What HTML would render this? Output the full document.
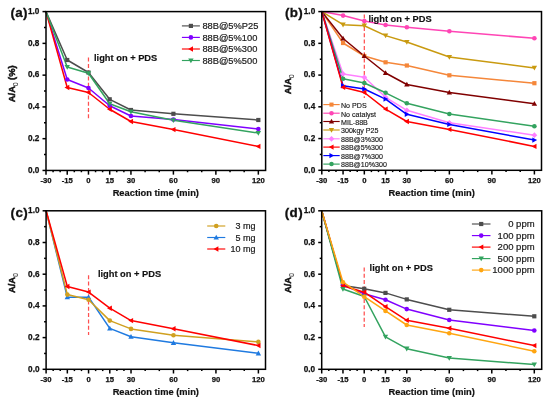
<!DOCTYPE html>
<html><head><meta charset="utf-8"><style>
html,body{margin:0;padding:0;background:#fff;-webkit-font-smoothing:antialiased;}
body{width:550px;height:401px;overflow:hidden;}
svg{display:block;will-change:transform;}
text{font-family:"Liberation Sans", sans-serif;fill:#111;}
.tk{font-size:8.2px;font-weight:bold;stroke:#111;stroke-width:0.25px;}
.tkx{font-size:7.7px;font-weight:bold;stroke:#111;stroke-width:0.25px;}
.ax{font-size:9.3px;font-weight:bold;stroke:#111;stroke-width:0.2px;}
.ay{font-size:9.4px;font-weight:bold;stroke:#111;stroke-width:0.45px;}
.sub{font-size:6.4px;stroke-width:0.15px;font-weight:normal;fill:#444;stroke:#444;}
.pl{font-size:13.4px;letter-spacing:0.35px;font-weight:bold;stroke:#111;stroke-width:0.3px;}
.lo{font-size:9.3px;font-weight:bold;stroke:#111;stroke-width:0.15px;}
.lg{font-size:9.3px;fill:#1a1a1a;stroke:#1a1a1a;stroke-width:0.2px;}
.lgs{font-size:7.1px;fill:#1a1a1a;stroke:#1a1a1a;stroke-width:0.15px;}
</style></head><body>
<svg width="550" height="401" viewBox="0 0 550 401">
<rect width="550" height="401" fill="#fff"/>
<line x1="88.47" y1="57.6" x2="88.47" y2="118.2" stroke="#ff5050" stroke-width="1.25" stroke-dasharray="4 2.3"/>
<polyline points="46.00,11.60 67.23,60.00 88.47,72.50 109.70,99.30 130.94,110.00 173.40,113.80 258.34,120.00" fill="none" stroke="#4d4d4d" stroke-width="1.5" stroke-linejoin="round"/>
<polyline points="46.00,11.60 67.23,79.50 88.47,88.00 109.70,105.75 130.94,116.00 173.40,119.60 258.34,129.00" fill="none" stroke="#8000ff" stroke-width="1.5" stroke-linejoin="round"/>
<polyline points="46.00,11.60 67.23,87.50 88.47,92.50 109.70,109.25 130.94,121.50 173.40,129.60 258.34,146.40" fill="none" stroke="#ff0000" stroke-width="1.5" stroke-linejoin="round"/>
<polyline points="46.00,11.60 67.23,67.00 88.47,73.30 109.70,103.75 130.94,111.75 173.40,120.30 258.34,133.00" fill="none" stroke="#33a35f" stroke-width="1.5" stroke-linejoin="round"/>
<rect x="65.13" y="57.90" width="4.20" height="4.20" fill="#4d4d4d"/>
<rect x="86.37" y="70.40" width="4.20" height="4.20" fill="#4d4d4d"/>
<rect x="107.60" y="97.20" width="4.20" height="4.20" fill="#4d4d4d"/>
<rect x="128.84" y="107.90" width="4.20" height="4.20" fill="#4d4d4d"/>
<rect x="171.30" y="111.70" width="4.20" height="4.20" fill="#4d4d4d"/>
<rect x="256.24" y="117.90" width="4.20" height="4.20" fill="#4d4d4d"/>
<circle cx="67.23" cy="79.50" r="2.30" fill="#8000ff"/>
<circle cx="88.47" cy="88.00" r="2.30" fill="#8000ff"/>
<circle cx="109.70" cy="105.75" r="2.30" fill="#8000ff"/>
<circle cx="130.94" cy="116.00" r="2.30" fill="#8000ff"/>
<circle cx="173.40" cy="119.60" r="2.30" fill="#8000ff"/>
<circle cx="258.34" cy="129.00" r="2.30" fill="#8000ff"/>
<path d="M64.53 87.50L69.33 84.80L69.33 90.20Z" fill="#ff0000"/>
<path d="M85.77 92.50L90.57 89.80L90.57 95.20Z" fill="#ff0000"/>
<path d="M107.00 109.25L111.80 106.55L111.80 111.95Z" fill="#ff0000"/>
<path d="M128.24 121.50L133.04 118.80L133.04 124.20Z" fill="#ff0000"/>
<path d="M170.70 129.60L175.50 126.90L175.50 132.30Z" fill="#ff0000"/>
<path d="M255.64 146.40L260.44 143.70L260.44 149.10Z" fill="#ff0000"/>
<path d="M67.23 69.70L69.93 64.90L64.53 64.90Z" fill="#33a35f"/>
<path d="M88.47 76.00L91.17 71.20L85.77 71.20Z" fill="#33a35f"/>
<path d="M109.70 106.45L112.40 101.65L107.00 101.65Z" fill="#33a35f"/>
<path d="M130.94 114.45L133.64 109.65L128.24 109.65Z" fill="#33a35f"/>
<path d="M173.40 123.00L176.10 118.20L170.70 118.20Z" fill="#33a35f"/>
<path d="M258.34 135.70L261.04 130.90L255.64 130.90Z" fill="#33a35f"/>
<rect x="46.00" y="11.60" width="219.60" height="158.85" fill="none" stroke="#000" stroke-width="1.5"/>
<line x1="42.50" y1="170.45" x2="46.00" y2="170.45" stroke="#000" stroke-width="1.5"/>
<line x1="44.00" y1="154.56" x2="46.00" y2="154.56" stroke="#000" stroke-width="1.5"/>
<line x1="42.50" y1="138.68" x2="46.00" y2="138.68" stroke="#000" stroke-width="1.5"/>
<line x1="44.00" y1="122.79" x2="46.00" y2="122.79" stroke="#000" stroke-width="1.5"/>
<line x1="42.50" y1="106.91" x2="46.00" y2="106.91" stroke="#000" stroke-width="1.5"/>
<line x1="44.00" y1="91.02" x2="46.00" y2="91.02" stroke="#000" stroke-width="1.5"/>
<line x1="42.50" y1="75.14" x2="46.00" y2="75.14" stroke="#000" stroke-width="1.5"/>
<line x1="44.00" y1="59.25" x2="46.00" y2="59.25" stroke="#000" stroke-width="1.5"/>
<line x1="42.50" y1="43.37" x2="46.00" y2="43.37" stroke="#000" stroke-width="1.5"/>
<line x1="44.00" y1="27.48" x2="46.00" y2="27.48" stroke="#000" stroke-width="1.5"/>
<line x1="42.50" y1="11.60" x2="46.00" y2="11.60" stroke="#000" stroke-width="1.5"/>
<text x="39.40" y="172.75" text-anchor="end" class="tk">0.0</text>
<text x="39.40" y="140.98" text-anchor="end" class="tk">0.2</text>
<text x="39.40" y="109.21" text-anchor="end" class="tk">0.4</text>
<text x="39.40" y="77.44" text-anchor="end" class="tk">0.6</text>
<text x="39.40" y="45.67" text-anchor="end" class="tk">0.8</text>
<text x="39.40" y="13.90" text-anchor="end" class="tk">1.0</text>
<line x1="46.00" y1="170.45" x2="46.00" y2="174.65" stroke="#000" stroke-width="1.5"/>
<text x="46.00" y="182.80" text-anchor="middle" class="tkx">-30</text>
<line x1="67.23" y1="170.45" x2="67.23" y2="174.65" stroke="#000" stroke-width="1.5"/>
<text x="67.23" y="182.80" text-anchor="middle" class="tkx">-15</text>
<line x1="88.47" y1="170.45" x2="88.47" y2="174.65" stroke="#000" stroke-width="1.5"/>
<text x="88.47" y="182.80" text-anchor="middle" class="tkx">0</text>
<line x1="109.70" y1="170.45" x2="109.70" y2="174.65" stroke="#000" stroke-width="1.5"/>
<text x="109.70" y="182.80" text-anchor="middle" class="tkx">15</text>
<line x1="130.94" y1="170.45" x2="130.94" y2="174.65" stroke="#000" stroke-width="1.5"/>
<text x="130.94" y="182.80" text-anchor="middle" class="tkx">30</text>
<line x1="173.40" y1="170.45" x2="173.40" y2="174.65" stroke="#000" stroke-width="1.5"/>
<text x="173.40" y="182.80" text-anchor="middle" class="tkx">60</text>
<line x1="215.87" y1="170.45" x2="215.87" y2="174.65" stroke="#000" stroke-width="1.5"/>
<text x="215.87" y="182.80" text-anchor="middle" class="tkx">90</text>
<line x1="258.34" y1="170.45" x2="258.34" y2="174.65" stroke="#000" stroke-width="1.5"/>
<text x="258.34" y="182.80" text-anchor="middle" class="tkx">120</text>
<line x1="53.08" y1="170.45" x2="53.08" y2="172.25" stroke="#000" stroke-width="1.5"/>
<line x1="60.16" y1="170.45" x2="60.16" y2="172.25" stroke="#000" stroke-width="1.5"/>
<line x1="74.31" y1="170.45" x2="74.31" y2="172.25" stroke="#000" stroke-width="1.5"/>
<line x1="81.39" y1="170.45" x2="81.39" y2="172.25" stroke="#000" stroke-width="1.5"/>
<line x1="95.55" y1="170.45" x2="95.55" y2="172.25" stroke="#000" stroke-width="1.5"/>
<line x1="102.62" y1="170.45" x2="102.62" y2="172.25" stroke="#000" stroke-width="1.5"/>
<line x1="116.78" y1="170.45" x2="116.78" y2="172.25" stroke="#000" stroke-width="1.5"/>
<line x1="123.86" y1="170.45" x2="123.86" y2="172.25" stroke="#000" stroke-width="1.5"/>
<line x1="145.09" y1="170.45" x2="145.09" y2="172.25" stroke="#000" stroke-width="1.5"/>
<line x1="159.25" y1="170.45" x2="159.25" y2="172.25" stroke="#000" stroke-width="1.5"/>
<line x1="187.56" y1="170.45" x2="187.56" y2="172.25" stroke="#000" stroke-width="1.5"/>
<line x1="201.72" y1="170.45" x2="201.72" y2="172.25" stroke="#000" stroke-width="1.5"/>
<line x1="230.03" y1="170.45" x2="230.03" y2="172.25" stroke="#000" stroke-width="1.5"/>
<line x1="244.18" y1="170.45" x2="244.18" y2="172.25" stroke="#000" stroke-width="1.5"/>
<text x="155.80" y="195.75" text-anchor="middle" class="ax">Reaction time (min)</text>
<text transform="translate(15.30,102.20) rotate(-90)" class="ay">A/A<tspan class="sub" dy="3">0</tspan><tspan dy="-3"> (%)</tspan></text>
<text x="10.50" y="17.40" class="pl">(a)</text>
<line x1="364.32" y1="14.4" x2="364.32" y2="98" stroke="#ff5050" stroke-width="1.25" stroke-dasharray="4 2.3"/>
<polyline points="321.80,11.60 343.06,15.60 364.32,21.10 385.58,25.00 406.84,27.20 449.36,31.30 534.39,38.30" fill="none" stroke="#ff45b5" stroke-width="1.5" stroke-linejoin="round"/>
<polyline points="321.80,11.60 343.06,24.70 364.32,25.70 385.58,35.60 406.84,42.00 449.36,57.00 534.39,67.90" fill="none" stroke="#c99a10" stroke-width="1.5" stroke-linejoin="round"/>
<polyline points="321.80,11.60 343.06,43.00 364.32,56.00 385.58,62.30 406.84,65.50 449.36,75.30 534.39,83.20" fill="none" stroke="#f5873a" stroke-width="1.5" stroke-linejoin="round"/>
<polyline points="321.80,11.60 343.06,38.50 364.32,56.00 385.58,73.00 406.84,84.50 449.36,92.40 534.39,103.70" fill="none" stroke="#800000" stroke-width="1.5" stroke-linejoin="round"/>
<polyline points="321.80,11.60 343.06,73.90 364.32,77.30 385.58,97.30 406.84,110.30 449.36,122.80 534.39,135.20" fill="none" stroke="#ff80ff" stroke-width="1.5" stroke-linejoin="round"/>
<polyline points="321.80,11.60 343.06,78.70 364.32,83.00 385.58,92.80 406.84,103.30 449.36,114.00 534.39,126.20" fill="none" stroke="#33a35f" stroke-width="1.5" stroke-linejoin="round"/>
<polyline points="321.80,11.60 343.06,85.80 364.32,89.00 385.58,99.10 406.84,114.30 449.36,124.40 534.39,140.10" fill="none" stroke="#0000ff" stroke-width="1.5" stroke-linejoin="round"/>
<polyline points="321.80,11.60 343.06,87.20 364.32,92.50 385.58,109.10 406.84,121.50 449.36,129.40 534.39,146.40" fill="none" stroke="#ff0000" stroke-width="1.5" stroke-linejoin="round"/>
<circle cx="343.06" cy="15.60" r="2.30" fill="#ff45b5"/>
<circle cx="364.32" cy="21.10" r="2.30" fill="#ff45b5"/>
<circle cx="385.58" cy="25.00" r="2.30" fill="#ff45b5"/>
<circle cx="406.84" cy="27.20" r="2.30" fill="#ff45b5"/>
<circle cx="449.36" cy="31.30" r="2.30" fill="#ff45b5"/>
<circle cx="534.39" cy="38.30" r="2.30" fill="#ff45b5"/>
<path d="M343.06 27.40L345.76 22.60L340.36 22.60Z" fill="#c99a10"/>
<path d="M364.32 28.40L367.02 23.60L361.62 23.60Z" fill="#c99a10"/>
<path d="M385.58 38.30L388.28 33.50L382.88 33.50Z" fill="#c99a10"/>
<path d="M406.84 44.70L409.54 39.90L404.14 39.90Z" fill="#c99a10"/>
<path d="M449.36 59.70L452.06 54.90L446.66 54.90Z" fill="#c99a10"/>
<path d="M534.39 70.60L537.09 65.80L531.70 65.80Z" fill="#c99a10"/>
<rect x="340.96" y="40.90" width="4.20" height="4.20" fill="#f5873a"/>
<rect x="362.22" y="53.90" width="4.20" height="4.20" fill="#f5873a"/>
<rect x="383.48" y="60.20" width="4.20" height="4.20" fill="#f5873a"/>
<rect x="404.74" y="63.40" width="4.20" height="4.20" fill="#f5873a"/>
<rect x="447.26" y="73.20" width="4.20" height="4.20" fill="#f5873a"/>
<rect x="532.30" y="81.10" width="4.20" height="4.20" fill="#f5873a"/>
<path d="M343.06 35.80L345.76 40.60L340.36 40.60Z" fill="#800000"/>
<path d="M364.32 53.30L367.02 58.10L361.62 58.10Z" fill="#800000"/>
<path d="M385.58 70.30L388.28 75.10L382.88 75.10Z" fill="#800000"/>
<path d="M406.84 81.80L409.54 86.60L404.14 86.60Z" fill="#800000"/>
<path d="M449.36 89.70L452.06 94.50L446.66 94.50Z" fill="#800000"/>
<path d="M534.39 101.00L537.09 105.80L531.70 105.80Z" fill="#800000"/>
<path d="M343.06 71.00L345.96 73.90L343.06 76.80L340.16 73.90Z" fill="#ff80ff"/>
<path d="M364.32 74.40L367.22 77.30L364.32 80.20L361.42 77.30Z" fill="#ff80ff"/>
<path d="M385.58 94.40L388.48 97.30L385.58 100.20L382.68 97.30Z" fill="#ff80ff"/>
<path d="M406.84 107.40L409.74 110.30L406.84 113.20L403.94 110.30Z" fill="#ff80ff"/>
<path d="M449.36 119.90L452.26 122.80L449.36 125.70L446.46 122.80Z" fill="#ff80ff"/>
<path d="M534.39 132.30L537.29 135.20L534.39 138.10L531.50 135.20Z" fill="#ff80ff"/>
<circle cx="343.06" cy="78.70" r="2.30" fill="#33a35f"/>
<circle cx="364.32" cy="83.00" r="2.30" fill="#33a35f"/>
<circle cx="385.58" cy="92.80" r="2.30" fill="#33a35f"/>
<circle cx="406.84" cy="103.30" r="2.30" fill="#33a35f"/>
<circle cx="449.36" cy="114.00" r="2.30" fill="#33a35f"/>
<circle cx="534.39" cy="126.20" r="2.30" fill="#33a35f"/>
<path d="M345.76 85.80L340.96 83.10L340.96 88.50Z" fill="#0000ff"/>
<path d="M367.02 89.00L362.22 86.30L362.22 91.70Z" fill="#0000ff"/>
<path d="M388.28 99.10L383.48 96.40L383.48 101.80Z" fill="#0000ff"/>
<path d="M409.54 114.30L404.74 111.60L404.74 117.00Z" fill="#0000ff"/>
<path d="M452.06 124.40L447.26 121.70L447.26 127.10Z" fill="#0000ff"/>
<path d="M537.09 140.10L532.30 137.40L532.30 142.80Z" fill="#0000ff"/>
<path d="M340.36 87.20L345.16 84.50L345.16 89.90Z" fill="#ff0000"/>
<path d="M361.62 92.50L366.42 89.80L366.42 95.20Z" fill="#ff0000"/>
<path d="M382.88 109.10L387.68 106.40L387.68 111.80Z" fill="#ff0000"/>
<path d="M404.14 121.50L408.94 118.80L408.94 124.20Z" fill="#ff0000"/>
<path d="M446.66 129.40L451.46 126.70L451.46 132.10Z" fill="#ff0000"/>
<path d="M531.70 146.40L536.49 143.70L536.49 149.10Z" fill="#ff0000"/>
<rect x="321.80" y="11.60" width="219.70" height="158.70" fill="none" stroke="#000" stroke-width="1.5"/>
<line x1="318.30" y1="170.30" x2="321.80" y2="170.30" stroke="#000" stroke-width="1.5"/>
<line x1="319.80" y1="154.43" x2="321.80" y2="154.43" stroke="#000" stroke-width="1.5"/>
<line x1="318.30" y1="138.56" x2="321.80" y2="138.56" stroke="#000" stroke-width="1.5"/>
<line x1="319.80" y1="122.69" x2="321.80" y2="122.69" stroke="#000" stroke-width="1.5"/>
<line x1="318.30" y1="106.82" x2="321.80" y2="106.82" stroke="#000" stroke-width="1.5"/>
<line x1="319.80" y1="90.95" x2="321.80" y2="90.95" stroke="#000" stroke-width="1.5"/>
<line x1="318.30" y1="75.08" x2="321.80" y2="75.08" stroke="#000" stroke-width="1.5"/>
<line x1="319.80" y1="59.21" x2="321.80" y2="59.21" stroke="#000" stroke-width="1.5"/>
<line x1="318.30" y1="43.34" x2="321.80" y2="43.34" stroke="#000" stroke-width="1.5"/>
<line x1="319.80" y1="27.47" x2="321.80" y2="27.47" stroke="#000" stroke-width="1.5"/>
<line x1="318.30" y1="11.60" x2="321.80" y2="11.60" stroke="#000" stroke-width="1.5"/>
<text x="315.20" y="172.60" text-anchor="end" class="tk">0.0</text>
<text x="315.20" y="140.86" text-anchor="end" class="tk">0.2</text>
<text x="315.20" y="109.12" text-anchor="end" class="tk">0.4</text>
<text x="315.20" y="77.38" text-anchor="end" class="tk">0.6</text>
<text x="315.20" y="45.64" text-anchor="end" class="tk">0.8</text>
<text x="315.20" y="13.90" text-anchor="end" class="tk">1.0</text>
<line x1="321.80" y1="170.30" x2="321.80" y2="174.50" stroke="#000" stroke-width="1.5"/>
<text x="321.80" y="182.65" text-anchor="middle" class="tkx">-30</text>
<line x1="343.06" y1="170.30" x2="343.06" y2="174.50" stroke="#000" stroke-width="1.5"/>
<text x="343.06" y="182.65" text-anchor="middle" class="tkx">-15</text>
<line x1="364.32" y1="170.30" x2="364.32" y2="174.50" stroke="#000" stroke-width="1.5"/>
<text x="364.32" y="182.65" text-anchor="middle" class="tkx">0</text>
<line x1="385.58" y1="170.30" x2="385.58" y2="174.50" stroke="#000" stroke-width="1.5"/>
<text x="385.58" y="182.65" text-anchor="middle" class="tkx">15</text>
<line x1="406.84" y1="170.30" x2="406.84" y2="174.50" stroke="#000" stroke-width="1.5"/>
<text x="406.84" y="182.65" text-anchor="middle" class="tkx">30</text>
<line x1="449.36" y1="170.30" x2="449.36" y2="174.50" stroke="#000" stroke-width="1.5"/>
<text x="449.36" y="182.65" text-anchor="middle" class="tkx">60</text>
<line x1="491.88" y1="170.30" x2="491.88" y2="174.50" stroke="#000" stroke-width="1.5"/>
<text x="491.88" y="182.65" text-anchor="middle" class="tkx">90</text>
<line x1="534.39" y1="170.30" x2="534.39" y2="174.50" stroke="#000" stroke-width="1.5"/>
<text x="534.39" y="182.65" text-anchor="middle" class="tkx">120</text>
<line x1="328.89" y1="170.30" x2="328.89" y2="172.10" stroke="#000" stroke-width="1.5"/>
<line x1="335.97" y1="170.30" x2="335.97" y2="172.10" stroke="#000" stroke-width="1.5"/>
<line x1="350.15" y1="170.30" x2="350.15" y2="172.10" stroke="#000" stroke-width="1.5"/>
<line x1="357.23" y1="170.30" x2="357.23" y2="172.10" stroke="#000" stroke-width="1.5"/>
<line x1="371.41" y1="170.30" x2="371.41" y2="172.10" stroke="#000" stroke-width="1.5"/>
<line x1="378.49" y1="170.30" x2="378.49" y2="172.10" stroke="#000" stroke-width="1.5"/>
<line x1="392.67" y1="170.30" x2="392.67" y2="172.10" stroke="#000" stroke-width="1.5"/>
<line x1="399.75" y1="170.30" x2="399.75" y2="172.10" stroke="#000" stroke-width="1.5"/>
<line x1="421.01" y1="170.30" x2="421.01" y2="172.10" stroke="#000" stroke-width="1.5"/>
<line x1="435.18" y1="170.30" x2="435.18" y2="172.10" stroke="#000" stroke-width="1.5"/>
<line x1="463.53" y1="170.30" x2="463.53" y2="172.10" stroke="#000" stroke-width="1.5"/>
<line x1="477.70" y1="170.30" x2="477.70" y2="172.10" stroke="#000" stroke-width="1.5"/>
<line x1="506.05" y1="170.30" x2="506.05" y2="172.10" stroke="#000" stroke-width="1.5"/>
<line x1="520.22" y1="170.30" x2="520.22" y2="172.10" stroke="#000" stroke-width="1.5"/>
<text x="431.65" y="195.60" text-anchor="middle" class="ax">Reaction time (min)</text>
<text transform="translate(291.10,94.20) rotate(-90)" class="ay">A/A<tspan class="sub" dy="3">0</tspan></text>
<text x="284.90" y="17.40" class="pl">(b)</text>
<line x1="88.56" y1="275.3" x2="88.56" y2="335" stroke="#ff5050" stroke-width="1.25" stroke-dasharray="4 2.3"/>
<polyline points="46.10,210.80 67.33,297.20 88.56,297.20 109.79,328.40 131.02,336.70 173.48,342.80 258.39,353.30" fill="none" stroke="#1f7ae0" stroke-width="1.5" stroke-linejoin="round"/>
<polyline points="46.10,210.80 67.33,294.60 88.56,299.70 109.79,320.60 131.02,328.90 173.48,335.20 258.39,341.90" fill="none" stroke="#d0a020" stroke-width="1.5" stroke-linejoin="round"/>
<polyline points="46.10,210.80 67.33,286.50 88.56,292.10 109.79,308.20 131.02,320.60 173.48,328.80 258.39,345.60" fill="none" stroke="#ff0000" stroke-width="1.5" stroke-linejoin="round"/>
<path d="M67.33 294.50L70.03 299.30L64.63 299.30Z" fill="#1f7ae0"/>
<path d="M88.56 294.50L91.26 299.30L85.86 299.30Z" fill="#1f7ae0"/>
<path d="M109.79 325.70L112.49 330.50L107.09 330.50Z" fill="#1f7ae0"/>
<path d="M131.02 334.00L133.72 338.80L128.32 338.80Z" fill="#1f7ae0"/>
<path d="M173.48 340.10L176.18 344.90L170.78 344.90Z" fill="#1f7ae0"/>
<path d="M258.39 350.60L261.09 355.40L255.69 355.40Z" fill="#1f7ae0"/>
<circle cx="67.33" cy="294.60" r="2.30" fill="#d0a020"/>
<circle cx="88.56" cy="299.70" r="2.30" fill="#d0a020"/>
<circle cx="109.79" cy="320.60" r="2.30" fill="#d0a020"/>
<circle cx="131.02" cy="328.90" r="2.30" fill="#d0a020"/>
<circle cx="173.48" cy="335.20" r="2.30" fill="#d0a020"/>
<circle cx="258.39" cy="341.90" r="2.30" fill="#d0a020"/>
<path d="M64.63 286.50L69.43 283.80L69.43 289.20Z" fill="#ff0000"/>
<path d="M85.86 292.10L90.66 289.40L90.66 294.80Z" fill="#ff0000"/>
<path d="M107.09 308.20L111.89 305.50L111.89 310.90Z" fill="#ff0000"/>
<path d="M128.32 320.60L133.12 317.90L133.12 323.30Z" fill="#ff0000"/>
<path d="M170.78 328.80L175.58 326.10L175.58 331.50Z" fill="#ff0000"/>
<path d="M255.69 345.60L260.50 342.90L260.50 348.30Z" fill="#ff0000"/>
<rect x="46.10" y="210.80" width="219.40" height="158.50" fill="none" stroke="#000" stroke-width="1.5"/>
<line x1="42.60" y1="369.30" x2="46.10" y2="369.30" stroke="#000" stroke-width="1.5"/>
<line x1="44.10" y1="353.45" x2="46.10" y2="353.45" stroke="#000" stroke-width="1.5"/>
<line x1="42.60" y1="337.60" x2="46.10" y2="337.60" stroke="#000" stroke-width="1.5"/>
<line x1="44.10" y1="321.75" x2="46.10" y2="321.75" stroke="#000" stroke-width="1.5"/>
<line x1="42.60" y1="305.90" x2="46.10" y2="305.90" stroke="#000" stroke-width="1.5"/>
<line x1="44.10" y1="290.05" x2="46.10" y2="290.05" stroke="#000" stroke-width="1.5"/>
<line x1="42.60" y1="274.20" x2="46.10" y2="274.20" stroke="#000" stroke-width="1.5"/>
<line x1="44.10" y1="258.35" x2="46.10" y2="258.35" stroke="#000" stroke-width="1.5"/>
<line x1="42.60" y1="242.50" x2="46.10" y2="242.50" stroke="#000" stroke-width="1.5"/>
<line x1="44.10" y1="226.65" x2="46.10" y2="226.65" stroke="#000" stroke-width="1.5"/>
<line x1="42.60" y1="210.80" x2="46.10" y2="210.80" stroke="#000" stroke-width="1.5"/>
<text x="39.50" y="371.60" text-anchor="end" class="tk">0.0</text>
<text x="39.50" y="339.90" text-anchor="end" class="tk">0.2</text>
<text x="39.50" y="308.20" text-anchor="end" class="tk">0.4</text>
<text x="39.50" y="276.50" text-anchor="end" class="tk">0.6</text>
<text x="39.50" y="244.80" text-anchor="end" class="tk">0.8</text>
<text x="39.50" y="213.10" text-anchor="end" class="tk">1.0</text>
<line x1="46.10" y1="369.30" x2="46.10" y2="373.50" stroke="#000" stroke-width="1.5"/>
<text x="46.10" y="381.65" text-anchor="middle" class="tkx">-30</text>
<line x1="67.33" y1="369.30" x2="67.33" y2="373.50" stroke="#000" stroke-width="1.5"/>
<text x="67.33" y="381.65" text-anchor="middle" class="tkx">-15</text>
<line x1="88.56" y1="369.30" x2="88.56" y2="373.50" stroke="#000" stroke-width="1.5"/>
<text x="88.56" y="381.65" text-anchor="middle" class="tkx">0</text>
<line x1="109.79" y1="369.30" x2="109.79" y2="373.50" stroke="#000" stroke-width="1.5"/>
<text x="109.79" y="381.65" text-anchor="middle" class="tkx">15</text>
<line x1="131.02" y1="369.30" x2="131.02" y2="373.50" stroke="#000" stroke-width="1.5"/>
<text x="131.02" y="381.65" text-anchor="middle" class="tkx">30</text>
<line x1="173.48" y1="369.30" x2="173.48" y2="373.50" stroke="#000" stroke-width="1.5"/>
<text x="173.48" y="381.65" text-anchor="middle" class="tkx">60</text>
<line x1="215.94" y1="369.30" x2="215.94" y2="373.50" stroke="#000" stroke-width="1.5"/>
<text x="215.94" y="381.65" text-anchor="middle" class="tkx">90</text>
<line x1="258.39" y1="369.30" x2="258.39" y2="373.50" stroke="#000" stroke-width="1.5"/>
<text x="258.39" y="381.65" text-anchor="middle" class="tkx">120</text>
<line x1="53.18" y1="369.30" x2="53.18" y2="371.10" stroke="#000" stroke-width="1.5"/>
<line x1="60.25" y1="369.30" x2="60.25" y2="371.10" stroke="#000" stroke-width="1.5"/>
<line x1="74.41" y1="369.30" x2="74.41" y2="371.10" stroke="#000" stroke-width="1.5"/>
<line x1="81.48" y1="369.30" x2="81.48" y2="371.10" stroke="#000" stroke-width="1.5"/>
<line x1="95.64" y1="369.30" x2="95.64" y2="371.10" stroke="#000" stroke-width="1.5"/>
<line x1="102.71" y1="369.30" x2="102.71" y2="371.10" stroke="#000" stroke-width="1.5"/>
<line x1="116.87" y1="369.30" x2="116.87" y2="371.10" stroke="#000" stroke-width="1.5"/>
<line x1="123.94" y1="369.30" x2="123.94" y2="371.10" stroke="#000" stroke-width="1.5"/>
<line x1="145.17" y1="369.30" x2="145.17" y2="371.10" stroke="#000" stroke-width="1.5"/>
<line x1="159.32" y1="369.30" x2="159.32" y2="371.10" stroke="#000" stroke-width="1.5"/>
<line x1="187.63" y1="369.30" x2="187.63" y2="371.10" stroke="#000" stroke-width="1.5"/>
<line x1="201.78" y1="369.30" x2="201.78" y2="371.10" stroke="#000" stroke-width="1.5"/>
<line x1="230.09" y1="369.30" x2="230.09" y2="371.10" stroke="#000" stroke-width="1.5"/>
<line x1="244.24" y1="369.30" x2="244.24" y2="371.10" stroke="#000" stroke-width="1.5"/>
<text x="155.80" y="394.60" text-anchor="middle" class="ax">Reaction time (min)</text>
<text transform="translate(15.40,293.00) rotate(-90)" class="ay">A/A<tspan class="sub" dy="3">0</tspan></text>
<text x="10.60" y="216.60" class="pl">(c)</text>
<line x1="364.22" y1="267.4" x2="364.22" y2="327" stroke="#ff5050" stroke-width="1.25" stroke-dasharray="4 2.3"/>
<polyline points="321.70,210.80 342.96,285.50 364.22,288.80 385.48,292.90 406.74,299.40 449.26,309.80 534.29,316.30" fill="none" stroke="#4d4d4d" stroke-width="1.5" stroke-linejoin="round"/>
<polyline points="321.70,210.80 342.96,285.00 364.22,293.70 385.48,299.70 406.74,309.10 449.26,320.00 534.29,330.50" fill="none" stroke="#8000ff" stroke-width="1.5" stroke-linejoin="round"/>
<polyline points="321.70,210.80 342.96,285.80 364.22,292.20 385.48,306.70 406.74,320.30 449.26,328.30 534.29,345.60" fill="none" stroke="#ff0000" stroke-width="1.5" stroke-linejoin="round"/>
<polyline points="321.70,210.80 342.96,289.00 364.22,296.50 385.48,336.80 406.74,348.70 449.26,358.00 534.29,364.50" fill="none" stroke="#33a35f" stroke-width="1.5" stroke-linejoin="round"/>
<polyline points="321.70,210.80 342.96,282.20 364.22,296.70 385.48,310.90 406.74,325.00 449.26,333.30 534.29,351.20" fill="none" stroke="#ffa510" stroke-width="1.5" stroke-linejoin="round"/>
<rect x="340.86" y="283.40" width="4.20" height="4.20" fill="#4d4d4d"/>
<rect x="362.12" y="286.70" width="4.20" height="4.20" fill="#4d4d4d"/>
<rect x="383.38" y="290.80" width="4.20" height="4.20" fill="#4d4d4d"/>
<rect x="404.64" y="297.30" width="4.20" height="4.20" fill="#4d4d4d"/>
<rect x="447.16" y="307.70" width="4.20" height="4.20" fill="#4d4d4d"/>
<rect x="532.20" y="314.20" width="4.20" height="4.20" fill="#4d4d4d"/>
<circle cx="342.96" cy="285.00" r="2.30" fill="#8000ff"/>
<circle cx="364.22" cy="293.70" r="2.30" fill="#8000ff"/>
<circle cx="385.48" cy="299.70" r="2.30" fill="#8000ff"/>
<circle cx="406.74" cy="309.10" r="2.30" fill="#8000ff"/>
<circle cx="449.26" cy="320.00" r="2.30" fill="#8000ff"/>
<circle cx="534.29" cy="330.50" r="2.30" fill="#8000ff"/>
<path d="M340.26 285.80L345.06 283.10L345.06 288.50Z" fill="#ff0000"/>
<path d="M361.52 292.20L366.32 289.50L366.32 294.90Z" fill="#ff0000"/>
<path d="M382.78 306.70L387.58 304.00L387.58 309.40Z" fill="#ff0000"/>
<path d="M404.04 320.30L408.84 317.60L408.84 323.00Z" fill="#ff0000"/>
<path d="M446.56 328.30L451.36 325.60L451.36 331.00Z" fill="#ff0000"/>
<path d="M531.60 345.60L536.39 342.90L536.39 348.30Z" fill="#ff0000"/>
<path d="M342.96 291.70L345.66 286.90L340.26 286.90Z" fill="#33a35f"/>
<path d="M364.22 299.20L366.92 294.40L361.52 294.40Z" fill="#33a35f"/>
<path d="M385.48 339.50L388.18 334.70L382.78 334.70Z" fill="#33a35f"/>
<path d="M406.74 351.40L409.44 346.60L404.04 346.60Z" fill="#33a35f"/>
<path d="M449.26 360.70L451.96 355.90L446.56 355.90Z" fill="#33a35f"/>
<path d="M534.29 367.20L536.99 362.40L531.60 362.40Z" fill="#33a35f"/>
<circle cx="342.96" cy="282.20" r="2.30" fill="#ffa510"/>
<circle cx="364.22" cy="296.70" r="2.30" fill="#ffa510"/>
<circle cx="385.48" cy="310.90" r="2.30" fill="#ffa510"/>
<circle cx="406.74" cy="325.00" r="2.30" fill="#ffa510"/>
<circle cx="449.26" cy="333.30" r="2.30" fill="#ffa510"/>
<circle cx="534.29" cy="351.20" r="2.30" fill="#ffa510"/>
<rect x="321.70" y="210.80" width="220.00" height="158.50" fill="none" stroke="#000" stroke-width="1.5"/>
<line x1="318.20" y1="369.30" x2="321.70" y2="369.30" stroke="#000" stroke-width="1.5"/>
<line x1="319.70" y1="353.45" x2="321.70" y2="353.45" stroke="#000" stroke-width="1.5"/>
<line x1="318.20" y1="337.60" x2="321.70" y2="337.60" stroke="#000" stroke-width="1.5"/>
<line x1="319.70" y1="321.75" x2="321.70" y2="321.75" stroke="#000" stroke-width="1.5"/>
<line x1="318.20" y1="305.90" x2="321.70" y2="305.90" stroke="#000" stroke-width="1.5"/>
<line x1="319.70" y1="290.05" x2="321.70" y2="290.05" stroke="#000" stroke-width="1.5"/>
<line x1="318.20" y1="274.20" x2="321.70" y2="274.20" stroke="#000" stroke-width="1.5"/>
<line x1="319.70" y1="258.35" x2="321.70" y2="258.35" stroke="#000" stroke-width="1.5"/>
<line x1="318.20" y1="242.50" x2="321.70" y2="242.50" stroke="#000" stroke-width="1.5"/>
<line x1="319.70" y1="226.65" x2="321.70" y2="226.65" stroke="#000" stroke-width="1.5"/>
<line x1="318.20" y1="210.80" x2="321.70" y2="210.80" stroke="#000" stroke-width="1.5"/>
<text x="315.10" y="371.60" text-anchor="end" class="tk">0.0</text>
<text x="315.10" y="339.90" text-anchor="end" class="tk">0.2</text>
<text x="315.10" y="308.20" text-anchor="end" class="tk">0.4</text>
<text x="315.10" y="276.50" text-anchor="end" class="tk">0.6</text>
<text x="315.10" y="244.80" text-anchor="end" class="tk">0.8</text>
<text x="315.10" y="213.10" text-anchor="end" class="tk">1.0</text>
<line x1="321.70" y1="369.30" x2="321.70" y2="373.50" stroke="#000" stroke-width="1.5"/>
<text x="321.70" y="381.65" text-anchor="middle" class="tkx">-30</text>
<line x1="342.96" y1="369.30" x2="342.96" y2="373.50" stroke="#000" stroke-width="1.5"/>
<text x="342.96" y="381.65" text-anchor="middle" class="tkx">-15</text>
<line x1="364.22" y1="369.30" x2="364.22" y2="373.50" stroke="#000" stroke-width="1.5"/>
<text x="364.22" y="381.65" text-anchor="middle" class="tkx">0</text>
<line x1="385.48" y1="369.30" x2="385.48" y2="373.50" stroke="#000" stroke-width="1.5"/>
<text x="385.48" y="381.65" text-anchor="middle" class="tkx">15</text>
<line x1="406.74" y1="369.30" x2="406.74" y2="373.50" stroke="#000" stroke-width="1.5"/>
<text x="406.74" y="381.65" text-anchor="middle" class="tkx">30</text>
<line x1="449.26" y1="369.30" x2="449.26" y2="373.50" stroke="#000" stroke-width="1.5"/>
<text x="449.26" y="381.65" text-anchor="middle" class="tkx">60</text>
<line x1="491.78" y1="369.30" x2="491.78" y2="373.50" stroke="#000" stroke-width="1.5"/>
<text x="491.78" y="381.65" text-anchor="middle" class="tkx">90</text>
<line x1="534.29" y1="369.30" x2="534.29" y2="373.50" stroke="#000" stroke-width="1.5"/>
<text x="534.29" y="381.65" text-anchor="middle" class="tkx">120</text>
<line x1="328.79" y1="369.30" x2="328.79" y2="371.10" stroke="#000" stroke-width="1.5"/>
<line x1="335.87" y1="369.30" x2="335.87" y2="371.10" stroke="#000" stroke-width="1.5"/>
<line x1="350.05" y1="369.30" x2="350.05" y2="371.10" stroke="#000" stroke-width="1.5"/>
<line x1="357.13" y1="369.30" x2="357.13" y2="371.10" stroke="#000" stroke-width="1.5"/>
<line x1="371.31" y1="369.30" x2="371.31" y2="371.10" stroke="#000" stroke-width="1.5"/>
<line x1="378.39" y1="369.30" x2="378.39" y2="371.10" stroke="#000" stroke-width="1.5"/>
<line x1="392.56" y1="369.30" x2="392.56" y2="371.10" stroke="#000" stroke-width="1.5"/>
<line x1="399.65" y1="369.30" x2="399.65" y2="371.10" stroke="#000" stroke-width="1.5"/>
<line x1="420.91" y1="369.30" x2="420.91" y2="371.10" stroke="#000" stroke-width="1.5"/>
<line x1="435.08" y1="369.30" x2="435.08" y2="371.10" stroke="#000" stroke-width="1.5"/>
<line x1="463.43" y1="369.30" x2="463.43" y2="371.10" stroke="#000" stroke-width="1.5"/>
<line x1="477.60" y1="369.30" x2="477.60" y2="371.10" stroke="#000" stroke-width="1.5"/>
<line x1="505.95" y1="369.30" x2="505.95" y2="371.10" stroke="#000" stroke-width="1.5"/>
<line x1="520.12" y1="369.30" x2="520.12" y2="371.10" stroke="#000" stroke-width="1.5"/>
<text x="431.70" y="394.60" text-anchor="middle" class="ax">Reaction time (min)</text>
<text transform="translate(291.00,293.00) rotate(-90)" class="ay">A/A<tspan class="sub" dy="3">0</tspan></text>
<text x="284.80" y="216.60" class="pl">(d)</text>
<text x="94" y="60.7" class="lo">light on + PDS</text>
<text x="368.4" y="21.8" class="lo">light on + PDS</text>
<text x="97.9" y="277" class="lo">light on + PDS</text>
<text x="369.6" y="271.2" class="lo">light on + PDS</text>
<line x1="181.9" y1="25.9" x2="199.9" y2="25.9" stroke="#4d4d4d" stroke-width="1.15"/>
<rect x="188.80" y="23.80" width="4.20" height="4.20" fill="#4d4d4d"/>
<text x="202.4" y="29.20" text-anchor="start" class="lg">88B@5%P25</text>
<line x1="181.9" y1="37.4" x2="199.9" y2="37.4" stroke="#8000ff" stroke-width="1.15"/>
<circle cx="190.90" cy="37.40" r="2.30" fill="#8000ff"/>
<text x="202.4" y="40.70" text-anchor="start" class="lg">88B@5%100</text>
<line x1="181.9" y1="49.0" x2="199.9" y2="49.0" stroke="#ff0000" stroke-width="1.15"/>
<path d="M188.20 49.00L193.00 46.30L193.00 51.70Z" fill="#ff0000"/>
<text x="202.4" y="52.30" text-anchor="start" class="lg">88B@5%300</text>
<line x1="181.9" y1="60.5" x2="199.9" y2="60.5" stroke="#33a35f" stroke-width="1.15"/>
<path d="M190.90 63.20L193.60 58.40L188.20 58.40Z" fill="#33a35f"/>
<text x="202.4" y="63.80" text-anchor="start" class="lg">88B@5%500</text>
<line x1="323.3" y1="104.6" x2="339.7" y2="104.6" stroke="#f5873a" stroke-width="1.15"/>
<rect x="329.45" y="102.55" width="4.10" height="4.10" fill="#f5873a"/>
<text x="341" y="107.90" text-anchor="start" class="lgs">No PDS</text>
<line x1="323.3" y1="113.2" x2="339.7" y2="113.2" stroke="#ff45b5" stroke-width="1.15"/>
<circle cx="331.50" cy="113.20" r="2.25" fill="#ff45b5"/>
<text x="341" y="116.50" text-anchor="start" class="lgs">No catalyst</text>
<line x1="323.3" y1="121.5" x2="339.7" y2="121.5" stroke="#800000" stroke-width="1.15"/>
<path d="M331.50 118.85L334.15 123.55L328.85 123.55Z" fill="#800000"/>
<text x="341" y="124.80" text-anchor="start" class="lgs">MIL-88B</text>
<line x1="323.3" y1="130.0" x2="339.7" y2="130.0" stroke="#c99a10" stroke-width="1.15"/>
<path d="M331.50 132.65L334.15 127.95L328.85 127.95Z" fill="#c99a10"/>
<text x="341" y="133.30" text-anchor="start" class="lgs">300kgy P25</text>
<line x1="323.3" y1="138.8" x2="339.7" y2="138.8" stroke="#ff80ff" stroke-width="1.15"/>
<path d="M331.50 135.95L334.35 138.80L331.50 141.65L328.65 138.80Z" fill="#ff80ff"/>
<text x="341" y="142.10" text-anchor="start" class="lgs">88B@3%300</text>
<line x1="323.3" y1="147.1" x2="339.7" y2="147.1" stroke="#ff0000" stroke-width="1.15"/>
<path d="M328.85 147.10L333.55 144.45L333.55 149.75Z" fill="#ff0000"/>
<text x="341" y="150.40" text-anchor="start" class="lgs">88B@5%300</text>
<line x1="323.3" y1="155.6" x2="339.7" y2="155.6" stroke="#0000ff" stroke-width="1.15"/>
<path d="M334.15 155.60L329.45 152.95L329.45 158.25Z" fill="#0000ff"/>
<text x="341" y="158.90" text-anchor="start" class="lgs">88B@7%300</text>
<line x1="323.3" y1="164.1" x2="339.7" y2="164.1" stroke="#33a35f" stroke-width="1.15"/>
<circle cx="331.50" cy="164.10" r="2.25" fill="#33a35f"/>
<text x="341" y="167.40" text-anchor="start" class="lgs">88B@10%300</text>
<line x1="207.2" y1="226.0" x2="225.3" y2="226.0" stroke="#d0a020" stroke-width="1.15"/>
<circle cx="216.25" cy="226.00" r="2.30" fill="#d0a020"/>
<text x="255.5" y="229.30" text-anchor="end" class="lg" style="font-size:9.0px">3 mg</text>
<line x1="207.2" y1="237.5" x2="225.3" y2="237.5" stroke="#1f7ae0" stroke-width="1.15"/>
<path d="M216.25 234.80L218.95 239.60L213.55 239.60Z" fill="#1f7ae0"/>
<text x="255.5" y="240.80" text-anchor="end" class="lg" style="font-size:9.0px">5 mg</text>
<line x1="207.2" y1="249.0" x2="225.3" y2="249.0" stroke="#ff0000" stroke-width="1.15"/>
<path d="M213.55 249.00L218.35 246.30L218.35 251.70Z" fill="#ff0000"/>
<text x="255.5" y="252.30" text-anchor="end" class="lg" style="font-size:9.0px">10 mg</text>
<line x1="471.9" y1="224.0" x2="490.5" y2="224.0" stroke="#4d4d4d" stroke-width="1.15"/>
<rect x="479.10" y="221.90" width="4.20" height="4.20" fill="#4d4d4d"/>
<text x="534.6" y="227.30" text-anchor="end" class="lg" style="font-size:9.5px">0 ppm</text>
<line x1="471.9" y1="235.6" x2="490.5" y2="235.6" stroke="#8000ff" stroke-width="1.15"/>
<circle cx="481.20" cy="235.60" r="2.30" fill="#8000ff"/>
<text x="534.6" y="238.90" text-anchor="end" class="lg" style="font-size:9.5px">100 ppm</text>
<line x1="471.9" y1="247.1" x2="490.5" y2="247.1" stroke="#ff0000" stroke-width="1.15"/>
<path d="M478.50 247.10L483.30 244.40L483.30 249.80Z" fill="#ff0000"/>
<text x="534.6" y="250.40" text-anchor="end" class="lg" style="font-size:9.5px">200 ppm</text>
<line x1="471.9" y1="258.6" x2="490.5" y2="258.6" stroke="#33a35f" stroke-width="1.15"/>
<path d="M481.20 261.30L483.90 256.50L478.50 256.50Z" fill="#33a35f"/>
<text x="534.6" y="261.90" text-anchor="end" class="lg" style="font-size:9.5px">500 ppm</text>
<line x1="471.9" y1="270.1" x2="490.5" y2="270.1" stroke="#ffa510" stroke-width="1.15"/>
<circle cx="481.20" cy="270.10" r="2.30" fill="#ffa510"/>
<text x="534.6" y="273.40" text-anchor="end" class="lg" style="font-size:9.5px">1000 ppm</text>
</svg>
</body></html>
